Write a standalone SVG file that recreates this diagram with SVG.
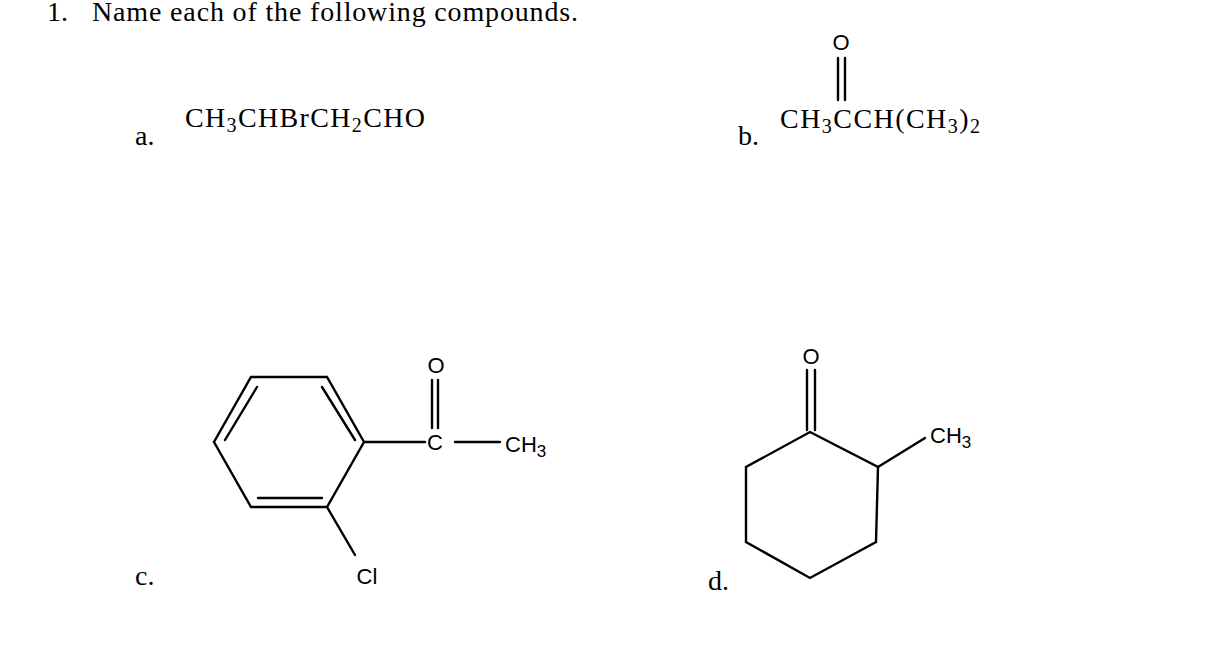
<svg xmlns="http://www.w3.org/2000/svg" width="1208" height="648" viewBox="0 0 1208 648">
<style>
.s{font-family:"Liberation Serif",serif;font-size:28px;fill:#000}
.f{font-family:"Liberation Sans",sans-serif;font-size:22px;fill:#000}
.b{stroke:#000;stroke-width:2.4;fill:none;stroke-linecap:round}
</style>
<rect width="1208" height="648" fill="#fff"/>
<text class="s" x="47" y="21" font-size="29.5">1.</text>
<text class="s" x="92" y="21" font-size="29.5" textLength="486">Name each of the following compounds.</text>
<g id="a">
<text class="s" x="135" y="145">a.</text>
<text class="s" x="185" y="127" textLength="240">CH<tspan font-size="20" dy="5">3</tspan><tspan dy="-5">CHBrCH</tspan><tspan font-size="20" dy="5">2</tspan><tspan dy="-5">CHO</tspan></text>
</g>
<g id="b">
<text class="s" x="738" y="145">b.</text>
<text class="s" x="780" y="128" textLength="200">CH<tspan font-size="20" dy="5">3</tspan><tspan dy="-5">CCH(CH</tspan><tspan font-size="20" dy="5">3</tspan><tspan dy="-5">)</tspan><tspan font-size="20" dy="5">2</tspan></text>
<text class="f" x="841" y="50" text-anchor="middle">O</text>
<path class="b" d="M838,58V100M845,58V100"/>
</g>
<g id="c">
<text class="s" x="135" y="585">c.</text>
<path class="b" d="M251,377L327,377L364,442L327,507L251,507L214,442Z"/>
<path class="b" d="M257,387L225,440M322,387L355,440M258,498L322,498"/>
<path class="b" d="M364,442H425M455,442H500M327,507L355,555M432,380V428M438,380V428"/>
<text class="f" x="435" y="450" text-anchor="middle">C</text>
<text class="f" x="436" y="373" text-anchor="middle">O</text>
<text class="f" x="505" y="452">CH<tspan font-size="17" dy="5">3</tspan></text>
<text class="f" x="367" y="584" text-anchor="middle">Cl</text>
</g>
<g id="d">
<text class="s" x="708" y="590">d.</text>
<path class="b" d="M810,432L878,467L876,542L810,578L746,542L746,467Z"/>
<path class="b" d="M807,370V430M815,370V430M878,467L925,438"/>
<text class="f" x="811" y="364" text-anchor="middle">O</text>
<text class="f" x="930" y="443">CH<tspan font-size="17" dy="5">3</tspan></text>
</g>
</svg>
